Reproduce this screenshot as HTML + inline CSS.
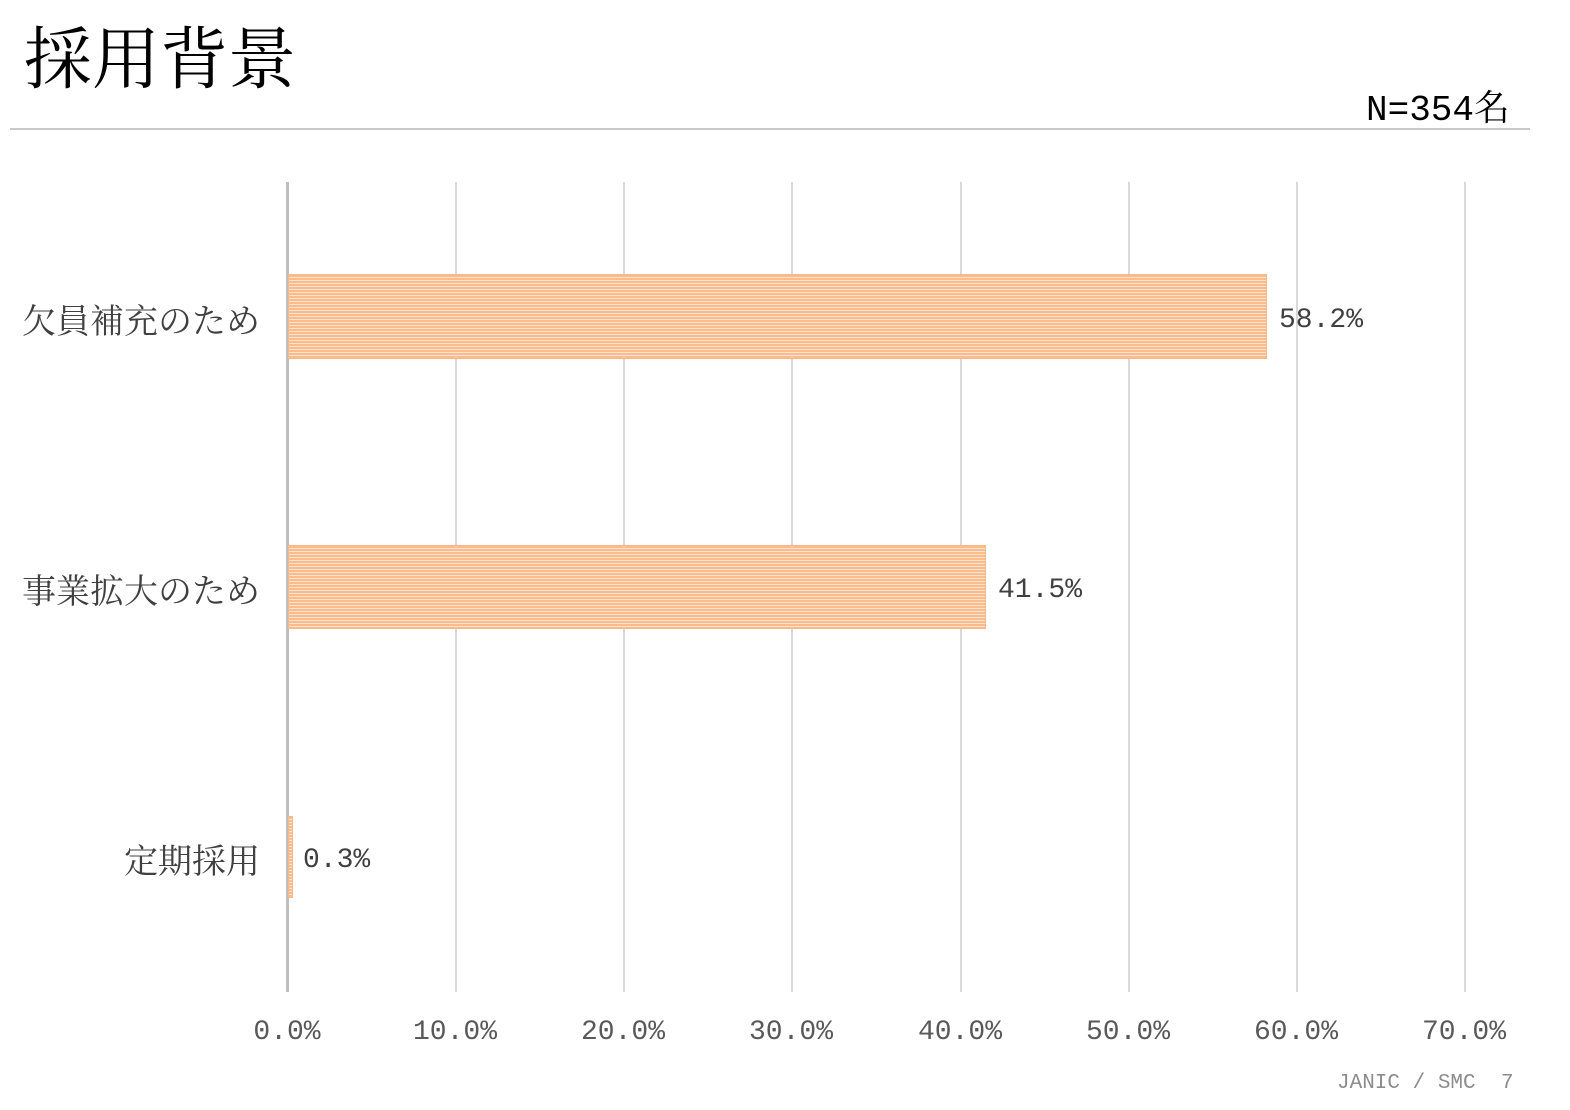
<!DOCTYPE html><html><head><meta charset="utf-8"><style>
body{margin:0;width:1570px;height:1110px;background:#fff;position:relative;overflow:hidden;font-family:"Liberation Serif","Noto Serif CJK SC",serif;}
.a{position:absolute;white-space:nowrap}
.m{font-family:"Liberation Mono","Noto Serif CJK JP",monospace}
.g{position:absolute;top:182px;height:810px;width:2px;background:#d9d9d9}
.bar{position:absolute;left:288px;background:repeating-linear-gradient(180deg,#f9bc8a 0 2px,#fde3cf 2px 3px);border:1px solid #f7b88a;box-sizing:border-box}
.t{position:absolute;top:1017px;font-size:28px;color:#595959;width:120px;text-align:center}
.c{font-size:34px;color:#404040;text-align:right;width:250px;left:10px}
.v{font-size:28px;color:#404040}
</style></head><body>
<div class="a" style="left:24px;top:20px;font-size:68px;line-height:80px;color:#000">採用背景</div>
<div class="a m" style="left:1366px;top:80px;font-size:36px;color:#000">N=354名</div>
<div class="a" style="left:10px;top:128px;width:1520px;height:2px;background:#c8c8c8"></div>
<div class="g" style="left:455px"></div><div class="g" style="left:623px"></div><div class="g" style="left:791px"></div><div class="g" style="left:960px"></div><div class="g" style="left:1128px"></div><div class="g" style="left:1296px"></div><div class="g" style="left:1464px"></div>
<div class="g" style="left:286px;width:3px;background:#bfbfbf"></div>
<div class="bar" style="top:274px;height:85px;width:979px"></div>
<div class="bar" style="top:545px;height:84px;width:698px"></div>
<div class="bar" style="top:816px;height:82px;width:5px"></div>
<div class="a c" style="top:294px">欠員補充のため</div>
<div class="a c" style="top:564px">事業拡大のため</div>
<div class="a c" style="top:834px">定期採用</div>
<div class="a v m" style="left:1279px;top:305px">58.2%</div>
<div class="a v m" style="left:998px;top:575px">41.5%</div>
<div class="a v m" style="left:303px;top:845px">0.3%</div>
<div class="t m" style="left:227px">0.0%</div><div class="t m" style="left:395px">10.0%</div><div class="t m" style="left:563px">20.0%</div><div class="t m" style="left:731px">30.0%</div><div class="t m" style="left:900px">40.0%</div><div class="t m" style="left:1068px">50.0%</div><div class="t m" style="left:1236px">60.0%</div><div class="t m" style="left:1404px">70.0%</div>
<div class="a m" style="left:1337px;top:1072px;font-size:21px;color:#8c8c8c">JANIC / SMC&nbsp;&nbsp;7</div>
</body></html>
